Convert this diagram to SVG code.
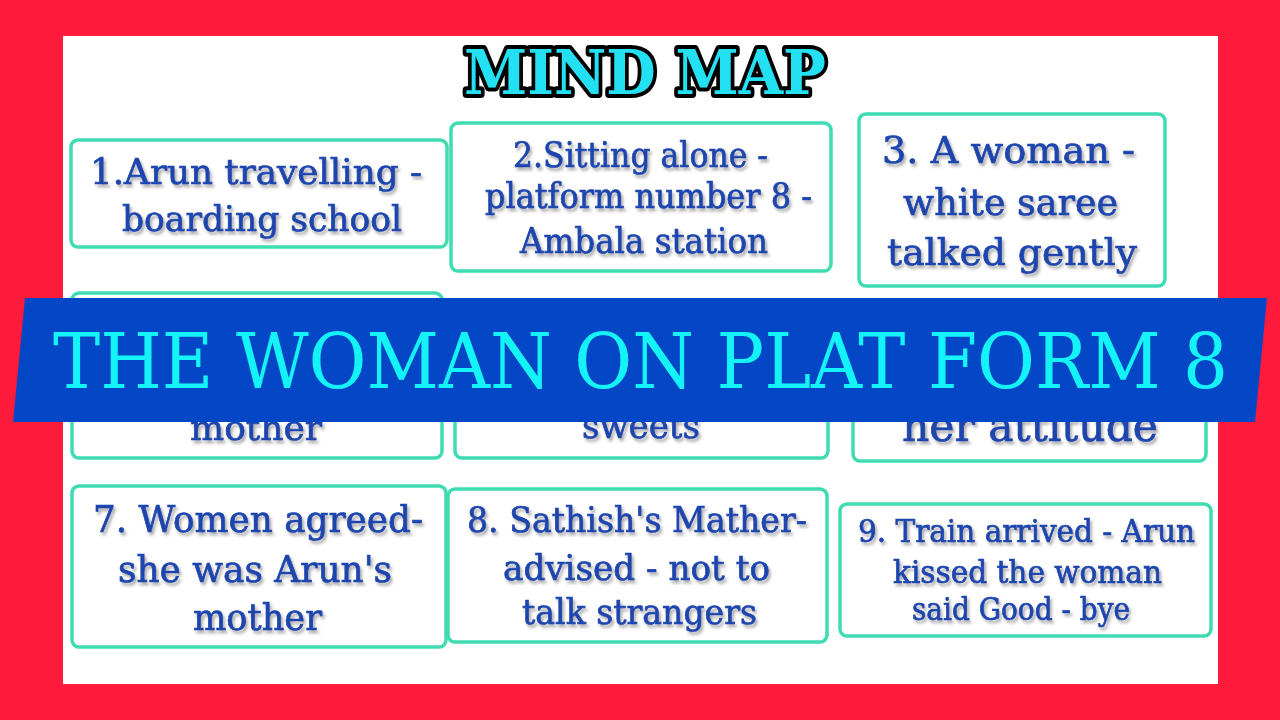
<svg xmlns="http://www.w3.org/2000/svg" width="1280" height="720" viewBox="0 0 1280 720">
<defs>
<filter id="sh" x="-10%" y="-30%" width="120%" height="160%">
<feDropShadow dx="2" dy="3" stdDeviation="1.8" flood-color="#555" flood-opacity="0.5"/>
</filter>
<style>
.box{fill:#ffffff;stroke:#3fdbb2;stroke-width:3.5}
.t{font-family:"DejaVu Serif","Liberation Serif",serif;fill:#1b45ae;stroke:#1b45ae;stroke-width:0.7;font-size:36px}
.title{font-family:"DejaVu Serif","Liberation Serif",serif;font-weight:bold;font-size:61px;fill:#23e0f2;stroke:#000;stroke-width:8;stroke-linejoin:round;paint-order:stroke}
.ban{font-family:"DejaVu Serif","Liberation Serif",serif;font-size:76px;fill:#14f4f8}
</style>
</defs>
<rect x="0" y="0" width="1280" height="720" fill="#fe1a3b"/>
<rect x="63" y="36" width="1155" height="648" fill="#ffffff"/>
<g id="title">
<text class="title" x="464" y="94" textLength="362" lengthAdjust="spacingAndGlyphs">MIND MAP</text>
</g>
<g id="node1">
<rect class="box" x="71" y="140" width="376" height="107" rx="7"/>
<g filter="url(#sh)">
<text class="t" x="90" y="184" textLength="332" lengthAdjust="spacingAndGlyphs">1.Arun travelling -</text>
<text class="t" x="122" y="231" textLength="280" lengthAdjust="spacingAndGlyphs">boarding school</text>
</g>
</g>
<g id="node2">
<rect class="box" x="451" y="123" width="380" height="148" rx="7"/>
<g filter="url(#sh)">
<text class="t" x="513" y="167" textLength="255" lengthAdjust="spacingAndGlyphs">2.Sitting alone -</text>
<text class="t" x="485" y="208" textLength="327" lengthAdjust="spacingAndGlyphs">platform number 8 -</text>
<text class="t" x="520" y="253" textLength="248" lengthAdjust="spacingAndGlyphs">Ambala station</text>
</g>
</g>
<g id="node3">
<rect class="box" x="859" y="114" width="306" height="172" rx="7"/>
<g filter="url(#sh)">
<text class="t" x="882" y="163" textLength="253" lengthAdjust="spacingAndGlyphs" style="font-size:38px">3. A woman -</text>
<text class="t" x="903" y="215" textLength="215" lengthAdjust="spacingAndGlyphs" style="font-size:38px">white saree</text>
<text class="t" x="887" y="265" textLength="250" lengthAdjust="spacingAndGlyphs" style="font-size:38px">talked gently</text>
</g>
</g>
<g id="node4">
<rect class="box" x="72" y="293" width="370" height="165" rx="7"/>
<g filter="url(#sh)">
<text class="t" x="190" y="440" textLength="132" lengthAdjust="spacingAndGlyphs">mother</text>
</g>
</g>
<g id="node5">
<rect class="box" x="455" y="305" width="373" height="153" rx="7"/>
<g filter="url(#sh)">
<text class="t" x="582" y="438" textLength="118" lengthAdjust="spacingAndGlyphs">sweets</text>
</g>
</g>
<g id="node6">
<rect class="box" x="853" y="305" width="353" height="156" rx="7"/>
<g filter="url(#sh)">
<text class="t" x="902" y="441" textLength="256" lengthAdjust="spacingAndGlyphs" style="font-size:42px">her attitude</text>
</g>
</g>
<g id="node7">
<rect class="box" x="72" y="486" width="374" height="161" rx="7"/>
<g filter="url(#sh)">
<text class="t" x="93" y="532" textLength="330" lengthAdjust="spacingAndGlyphs" style="font-size:37px">7. Women agreed-</text>
<text class="t" x="118" y="582" textLength="274" lengthAdjust="spacingAndGlyphs" style="font-size:37px">she was Arun's</text>
<text class="t" x="193" y="630" textLength="129" lengthAdjust="spacingAndGlyphs" style="font-size:37px">mother</text>
</g>
</g>
<g id="node8">
<rect class="box" x="448" y="489" width="379" height="153" rx="7"/>
<g filter="url(#sh)">
<text class="t" x="467" y="532" textLength="340" lengthAdjust="spacingAndGlyphs">8. Sathish's Mather-</text>
<text class="t" x="503" y="580" textLength="267" lengthAdjust="spacingAndGlyphs">advised - not to</text>
<text class="t" x="522" y="624" textLength="235" lengthAdjust="spacingAndGlyphs">talk strangers</text>
</g>
</g>
<g id="node9">
<rect class="box" x="840" y="504" width="371" height="132" rx="7"/>
<g filter="url(#sh)">
<text class="t" x="858" y="542" textLength="337" lengthAdjust="spacingAndGlyphs" style="font-size:32px">9. Train arrived - Arun</text>
<text class="t" x="893" y="583" textLength="269" lengthAdjust="spacingAndGlyphs" style="font-size:32px">kissed the woman</text>
<text class="t" x="912" y="620" textLength="218" lengthAdjust="spacingAndGlyphs" style="font-size:32px">said Good - bye</text>
</g>
</g>
<g id="banner">
<polygon points="25,298 1267,298 1255,422 13,422" fill="#0447c6"/>
<text class="ban" x="53" y="388" textLength="1175" lengthAdjust="spacingAndGlyphs">THE WOMAN ON PLAT FORM 8</text>
</g>
</svg>
